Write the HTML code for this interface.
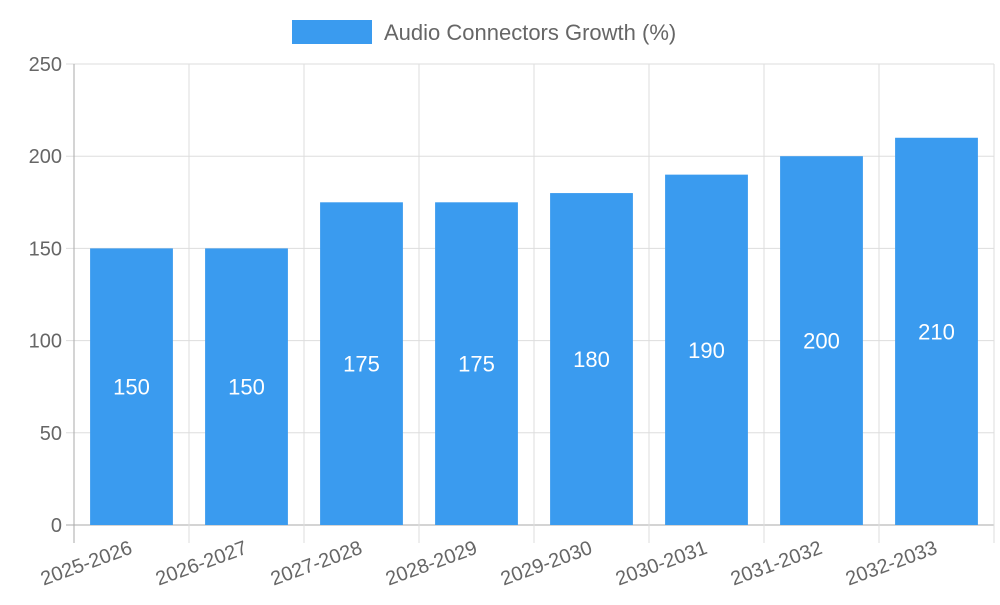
<!DOCTYPE html>
<html><head><meta charset="utf-8"><style>body{margin:0;background:#fff}svg{font-family:"Liberation Sans",sans-serif}</style></head>
<body>
<svg id="c" width="1000" height="600">
<g>
<rect x="292" y="20" width="80" height="24" fill="#3a9bef"></rect>
<text x="384" y="40" font-size="22" fill="#666">Audio Connectors Growth (%)</text>
</g>
</svg>
<script>
const categories=["2025-2026","2026-2027","2027-2028","2028-2029","2029-2030","2030-2031","2031-2032","2032-2033"];
const values=[150,150,175,175,180,190,200,210];
const yTicks=[0,50,100,150,200,250];
const svg=document.getElementById('c');
const NS='http://www.w3.org/2000/svg';
const L=74,R=994,T=64,B=525,yMax=250;
const y=v=>B-(v/yMax)*(B-T);
const bw=(R-L)/categories.length;
const x=i=>L+i*bw;
function mk(t,a,p){const e=document.createElementNS(NS,t);for(const k in a)e.setAttribute(k,a[k]);(p||svg).appendChild(e);return e;}
const grid=mk('g',{});


yTicks.forEach(v=>{
 const l=mk('line',{x1:L-8,x2:R,y1:y(v),y2:y(v),stroke:v===0?'#aaa':'#ddd','stroke-width':1},grid);
 
 
 const t=mk('text',{x:L-12,y:y(v)+7,'text-anchor':'end','font-size':20,fill:'#666'});
 t.textContent=v;
 
 
});
for(let i=0;i<=categories.length;i++){
 const l=mk('line',{x1:x(i),x2:x(i),y1:T,y2:B+18,stroke:i===0?'#aaa':'#ddd','stroke-width':1},grid);
 
 
}
categories.forEach((c,i)=>{
 const cx=x(i)+bw/2, w=bw*0.72;
 const r=mk('rect',{x:cx-w/2,y:y(values[i]),width:w,height:B-y(values[i]),fill:'#3a9bef'});
 
 
 const vt=mk('text',{x:cx,y:(y(values[i])+B)/2+8,'text-anchor':'middle','font-size':22,fill:'#fff'});
 vt.textContent=values[i];
 
 
 const t=mk('text',{x:cx+2,y:553,'text-anchor':'end','font-size':20,fill:'#666',transform:`rotate(-20 ${cx+2} 553)`});
 t.textContent=c;
 
 
});
</script>
</body></html>
